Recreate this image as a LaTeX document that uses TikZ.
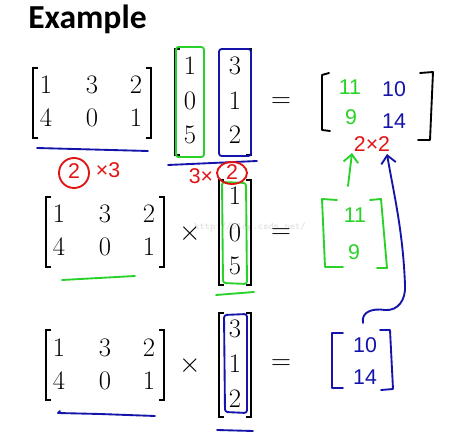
\documentclass[tikz,border=0pt]{standalone}
\usepackage{fontspec}
\usetikzlibrary{arrows.meta}
\newfontfamily\handfont{Liberation Sans}
\newfontfamily\titlefont{Carlito}
\definecolor{pgreen}{RGB}{40,210,40}
\definecolor{pblue}{RGB}{20,20,170}
\definecolor{pred}{RGB}{225,20,20}
\tikzset{
  dig/.style={font=\fontsize{20}{24}\selectfont, inner sep=0pt, anchor=base},
  brk/.style={line width=1.2pt},
  hw/.style={font=\handfont\fontsize{16}{18}\selectfont, inner sep=0pt},
  pen/.style={line width=1.4pt, line cap=round, line join=round},
  op/.style={font=\fontsize{20}{24}\selectfont, inner sep=0pt},
  hand arrow/.style={-{Straight Barb[length=6pt,width=11pt,line width=1.4pt]}}
}
\begin{document}
\begin{tikzpicture}[x=0.75pt,y=-0.75pt]
\useasboundingbox (0,0) rectangle (474,441);
\fill[white] (0,0) rectangle (474,441);

% watermark
\node[font=\ttfamily\fontsize{7.5}{8}\selectfont, text=black!13, inner sep=0pt] (wm) at (250,227) {http://blog.csdn.net/};

% title
\node[font=\titlefont\bfseries\fontsize{25.2}{30}\selectfont, anchor=base west, inner sep=0pt] (title) at (28,28.5) {Example};

% ---------- 2x3 matrices A ----------
\foreach \r/\L/\T in {1/32/68, 2/45/197, 3/45/330}{
  \begin{scope}[shift={(\L,\T)}]
    \draw[brk] (6,0) -- (1,0) -- (1,70) -- (6,70);
    \draw[brk] (114,0) -- (119,0) -- (119,70) -- (114,70);
    \node[dig] (A\r a) at (14,26) {1};
    \node[dig] (A\r b) at (60,26) {3};
    \node[dig] (A\r c) at (104,26) {2};
    \node[dig] (A\r d) at (14,59) {4};
    \node[dig] (A\r e) at (60,59) {0};
    \node[dig] (A\r f) at (104,59) {1};
  \end{scope}
}

% ---------- 3x2 matrix B (row 1) ----------
\begin{scope}[shift={(174,49)}]
  \draw[brk] (6,0) -- (1,0) -- (1,106) -- (6,106);
  \draw[brk] (72,0) -- (77,0) -- (77,106) -- (72,106);
  \node[dig] (B1a) at (16,26) {1};
  \node[dig] (B1b) at (61,26) {3};
  \node[dig] (B1c) at (16,61) {0};
  \node[dig] (B1d) at (61,61) {1};
  \node[dig] (B1e) at (16,95) {5};
  \node[dig] (B1f) at (61,95) {2};
\end{scope}
\draw[pen,pgreen,rounded corners=2pt] (176,47) rectangle (204,157);
\draw[pen,pblue,rounded corners=2pt] (219,49) rectangle (251,156);

% ---------- column vectors ----------
\begin{scope}[shift={(218,180)}]
  \draw[brk] (6,0) -- (1,0) -- (1,105) -- (6,105);
  \draw[brk] (28,0) -- (33,0) -- (33,105) -- (28,105);
  \node[dig] (C2a) at (17,25) {1};
  \node[dig] (C2b) at (17,62) {0};
  \node[dig] (C2c) at (17,95) {5};
\end{scope}
\draw[pen,pgreen,rounded corners=2pt] (222,182) -- (246,183) -- (247,284) -- (223,283) -- cycle;

\begin{scope}[shift={(218,313)}]
  \draw[brk] (6,0) -- (1,0) -- (1,104) -- (6,104);
  \draw[brk] (28,0) -- (33,0) -- (33,104) -- (28,104);
  \node[dig] (C3a) at (17,24) {3};
  \node[dig] (C3b) at (17,59) {1};
  \node[dig] (C3c) at (17,94) {2};
\end{scope}
\draw[pen,pblue,rounded corners=2pt] (224,315) -- (247,314) -- (247,413) -- (225,412) -- cycle;

% ---------- operators ----------
\node[op] (eq1) at (281,103) {$=$};
\node[op] (x2) at (190,234) {$\times$};
\node[op] (eq2) at (281,234) {$=$};
\node[op] (x3) at (190,366) {$\times$};
\node[op] (eq3) at (281,365) {$=$};

% ---------- handwritten result row 1 ----------
\draw[pen,black] (329,73) -- (322,75) -- (322,130) -- (330,131);
\draw[pen,black] (420,73) -- (433,72) -- (430,140) -- (418,140);
\node[hw,text=pgreen] (r11) at (350,87) {11};
\node[hw,text=pblue] (r12) at (394,89) {10};
\node[hw,text=pgreen] (r21) at (351,117) {9};
\node[hw,text=pblue] (r22) at (394,121) {14};

% ---------- handwritten result row 2 ----------
\draw[pen,pgreen] (337,200) -- (322,199) -- (325,267) -- (343,267);
\draw[pen,pgreen] (370,200) -- (381,199) -- (387,268) -- (377,268);
\node[hw,text=pgreen] (g1) at (355,215) {11};
\node[hw,text=pgreen] (g2) at (354,252) {9};

% ---------- handwritten result row 3 ----------
\draw[pen,pblue] (343,333) -- (332,333) -- (332,388) -- (343,388);
\draw[pen,pblue] (380,330) -- (390,330) -- (393,389) -- (381,390);
\node[hw,text=pblue] (b1) at (365,345) {10};
\node[hw,text=pblue] (b2) at (365,377) {14};

% ---------- underlines ----------
\draw[pen,pblue] (37,148) -- (148,151);
\draw[pen,pblue] (168,165) -- (257,161);
\draw[pen,pgreen] (62,280) -- (135,276);
\draw[pen,pgreen] (216,295) -- (254,292);
\draw[pen,pblue] (60,411) -- (58,413) -- (100,414) -- (155,416);
\draw[pen,pblue] (217,430) -- (253,431);

% ---------- red dimension notes ----------
\draw[pen,pred] (74,173) circle [radius=15];
\node[hw,text=pred] (d1) at (74,171) {2};
\node[hw,text=pred] (d2) at (108,170) {×3};
\node[hw,text=pred] (d3) at (201,176) {3×};
\draw[pen,pred] (232,173) ellipse [x radius=15, y radius=11];
\node[hw,text=pred] (d4) at (232,172) {2};
\node[hw,text=pred] (d5) at (372,144) {2×2};

% ---------- arrows ----------
\coordinate (gstart) at (348,186);
\coordinate (gend) at (352,153);
\draw[pen,pgreen,hand arrow] (gstart) -- (gend);
\coordinate (bstart) at (363,323);
\coordinate (bend) at (387,154);
\draw[pen,pblue,hand arrow] (bstart) .. controls (361,312) and (372,308) .. (385,310)
  .. controls (398,311) and (406,300) .. (405,285)
  .. controls (403,230) and (393,190) .. (bend);
\end{tikzpicture}
\end{document}
